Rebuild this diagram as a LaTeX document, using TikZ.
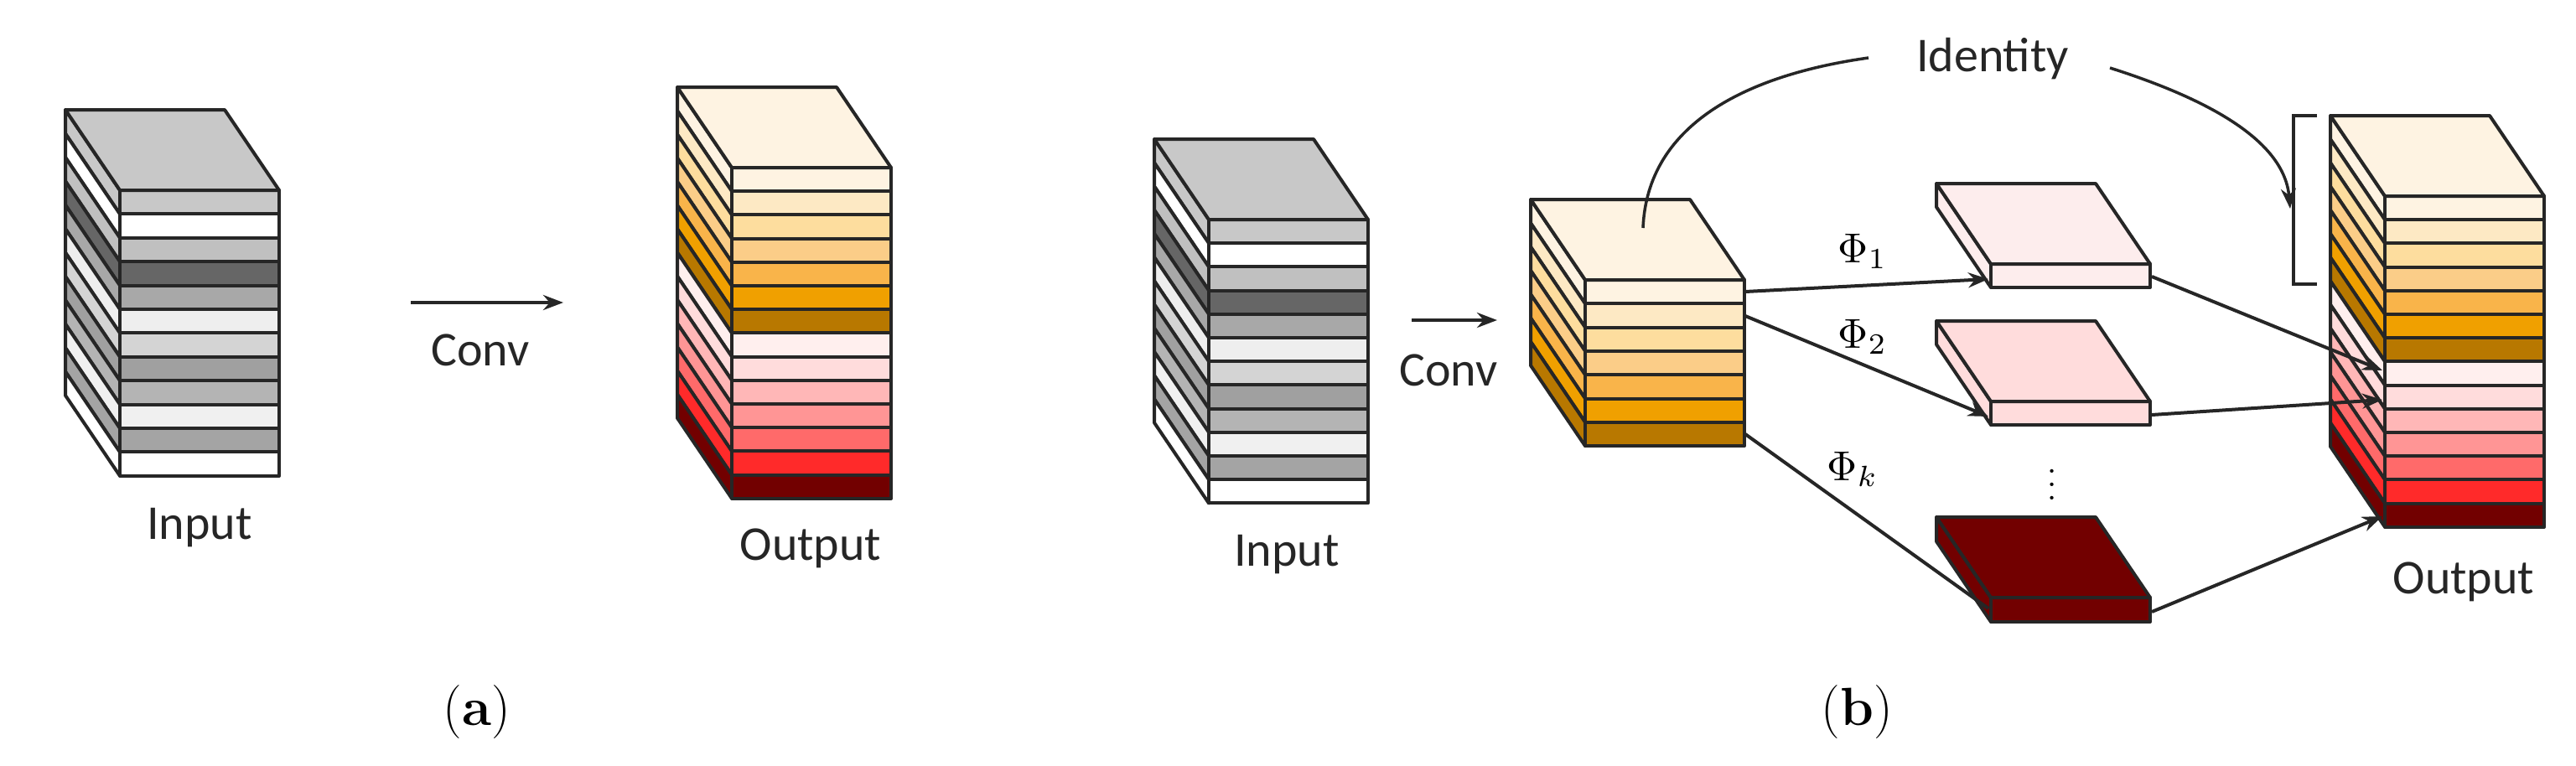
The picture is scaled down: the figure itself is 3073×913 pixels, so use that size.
\documentclass[tikz,border=0pt]{standalone}
\usepackage{fontspec}
\setsansfont{Carlito}
\usetikzlibrary{arrows.meta}
\definecolor{g1}{HTML}{C8C8C8}\definecolor{g2}{HTML}{FFFFFF}\definecolor{g3}{HTML}{C0C0C0}
\definecolor{g4}{HTML}{666666}\definecolor{g5}{HTML}{A8A8A8}\definecolor{g6}{HTML}{EEEEEE}
\definecolor{g7}{HTML}{D4D4D4}\definecolor{g8}{HTML}{A0A0A0}\definecolor{g9}{HTML}{B4B4B4}
\definecolor{g10}{HTML}{F0F0F0}\definecolor{g11}{HTML}{A4A4A4}
\definecolor{o1}{HTML}{FEF3E2}\definecolor{o2}{HTML}{FDE9C4}\definecolor{o3}{HTML}{FDDD9E}
\definecolor{o4}{HTML}{FBCD88}\definecolor{o5}{HTML}{F9B44A}\definecolor{o6}{HTML}{F0A000}
\definecolor{o7}{HTML}{B87800}
\definecolor{r1}{HTML}{FFEFEE}\definecolor{r2}{HTML}{FFDCDC}\definecolor{r3}{HTML}{FFB7B7}
\definecolor{r4}{HTML}{FF9595}\definecolor{r5}{HTML}{FF6A6A}\definecolor{r6}{HTML}{FF2A2A}
\definecolor{r7}{HTML}{720000}
\definecolor{s1}{HTML}{FDEDED}
\newcommand\blockdraw[4]{% front-left x, front-top y, layer height, colour list
  \foreach \c [count=\i from 0] in {#4} {
    \pgfmathsetmacro\t{#2+\i*#3}
    \filldraw[face,fill=\c] (#1,\t) -- ++(-65,-96) -- ++(0,#3) -- ++(65,96) -- cycle;
    \filldraw[face,fill=\c] (#1,\t) rectangle ++(190,#3);
    \ifnum\i=0 \filldraw[face,fill=\c] (#1,#2) -- ++(-65,-96) -- ++(190,0) -- ++(65,96) -- cycle;\fi
  }}
\begin{document}
\begin{tikzpicture}[x=1pt,y=-1pt,
  face/.style={draw=black!85,line width=4pt,line join=round},
  con/.style={line width=4pt,draw=black!85},
  arr/.style={con,-{Stealth[length=24pt,width=18pt]}},
  lab/.style={font=\sffamily\fontsize{58}{60}\selectfont,text=black!85},
  subcap/.style={font=\fontsize{64}{70}\selectfont}]
\useasboundingbox (0,0) rectangle (3073,913);
% (a)
\blockdraw{143}{227}{28.4}{g1,g2,g3,g4,g5,g6,g7,g8,g9,g10,g11,g2}
\blockdraw{873}{200}{28.2}{o1,o2,o3,o4,o5,o6,o7,r1,r2,r3,r4,r5,r6,r7}
\node[lab] (inA) at (238,630) {Input};
\node[lab] (outA) at (967,654) {Output};
\coordinate (a1) at (490,361); \coordinate (a2) at (672,361);
\draw[arr] (a1) -- (a2);
\node[lab] (convA) at (573,418) {Conv};
\node[subcap] (capA) at (569,850) {(\textbf{a})};
% (b)
\blockdraw{1442}{262}{28.2}{g1,g2,g3,g4,g5,g6,g7,g8,g9,g10,g11,g2}
\node[lab] (inB) at (1535,662) {Input};
\coordinate (b1) at (1684,382); \coordinate (b2) at (1786,382);
\draw[arr] (b1) -- (b2);
\node[lab] (convB) at (1728,442) {Conv};
\blockdraw{1891}{334}{28.3}{o1,o2,o3,o4,o5,o6,o7}
\blockdraw{2375}{315}{28}{s1}
\blockdraw{2375}{479}{28}{r2}
\blockdraw{2375}{713}{29}{r7}
\node (dots) at (2448,566) {\scalebox{4}{$\vdots$}};
\blockdraw{2845}{234}{28.2}{o1,o2,o3,o4,o5,o6,o7,r1,r2,r3,r4,r5,r6,r7}
\node[lab] (outB) at (2939,694) {Output};
\node[lab] (id) at (2377,70) {Identity};
\coordinate (m1) at (2082,348); \coordinate (m2) at (2082,377); \coordinate (m3) at (2082,518);
\coordinate (s1i) at (2372,333); \coordinate (s2i) at (2372,497); \coordinate (s3i) at (2372,726);
\coordinate (s1o) at (2567,330); \coordinate (s2o) at (2567,495); \coordinate (s3o) at (2567,730);
\coordinate (o1i) at (2842,442); \coordinate (o2i) at (2842,477); \coordinate (o3i) at (2842,616);
\draw[arr] (m1) -- (s1i); \draw[arr] (m2) -- (s2i); \draw[con] (m3) -- (s3i);
\draw[arr] (s1o) -- (o1i); \draw[arr] (s2o) -- (o2i); \draw[arr] (s3o) -- (o3i);
\node (p1) at (2222,300) {\scalebox{5}{$\Phi_1$}};
\node (p2) at (2222,402) {\scalebox{5}{$\Phi_2$}};
\node (pk) at (2210,560) {\scalebox{5}{$\Phi_k$}};
\coordinate (c1) at (1960,272); \coordinate (c2) at (2229,69);
\draw[con,line width=3.5pt] (c1) .. controls (1965,150) and (2080,90) .. (c2);
\coordinate (c3) at (2517,81); \coordinate (c4) at (2732,249);
\draw[con,line width=3.5pt,-{Stealth[length=24pt,width=18pt]}] (c3) .. controls (2640,120) and (2725,170) .. (c4);
\coordinate (k1) at (2764,138); \coordinate (k2) at (2764,339);
\draw[con,line width=3.5pt] (k1) -- (2736,138) -- (2736,339) -- (k2);
\node[subcap] (capB) at (2215,850) {(\textbf{b})};
\end{tikzpicture}
\end{document}
